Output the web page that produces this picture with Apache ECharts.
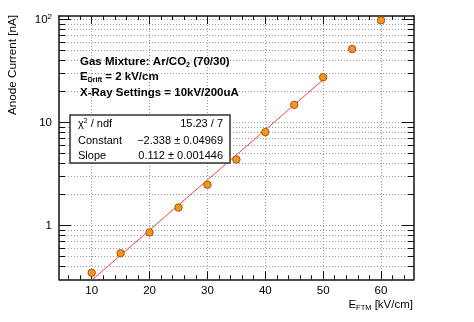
<!DOCTYPE html>
<html><head><meta charset="utf-8">
<script src="https://cdn.jsdelivr.net/npm/echarts@6/dist/echarts.min.js"></script>
<style>html,body{margin:0;padding:0;background:#fff}#c{width:474px;height:322px}</style>
</head><body><div id="c"></div>
<script>
// ---- data ----
const fieldKVcm = [10, 15, 20, 25, 30, 35, 40, 45, 50, 55, 60];
const anodeCurrent = [0.35, 0.54, 0.86, 1.5, 2.5, 4.4, 8.1, 14.9, 27.6, 52, 98.6];
const fitX = [10, 50];
const fitY = [0.2958, 26.10];
const xMajorTicks = [10, 20, 30, 40, 50, 60];
const xMinorTicks = [6, 8, 12, 14, 16, 18, 22, 24, 26, 28, 32, 34, 36, 38, 42, 44, 46, 48, 52, 54, 56, 58, 62, 64];
const yMajorTicks = [1, 10, 100];
const yMinorTicks = [0.4, 0.5, 0.6, 0.7, 0.8, 0.9, 2, 3, 4, 5, 6, 7, 8, 9, 20, 30, 40, 50, 60, 70, 80, 90];
const infoLines = ['Gas Mixture: Ar/CO{sub|2} (70/30)', 'E{sub|Drift} = 2 kV/cm', 'X-Ray Settings = 10kV/200uA'];
const fitLabels = ['χ{sup|2} / ndf', 'Constant', 'Slope'];
const fitValues = ['15.23 / 7', '−2.338 ± 0.04969', '0.112 ± 0.001446'];

// ---- layout / style ----
const FONT = 'Liberation Sans, Arial, Helvetica, sans-serif';
const XMIN = 4.35, XMAX = 65.7, YMIN = 0.302, YMAX = 108.6;
const GRID = {left: 59, right: 60, top: 16, bottom: 42.7};
const gridLine = {show: true, lineStyle: {color: '#9a9a9a', width: 1, type: [1, 2]}};

function xAxisDef(position, ticks, len, main, showLine) {
  return {
    type: 'value', position: position, min: XMIN, max: XMAX,
    axisLine: {show: showLine, onZero: false, lineStyle: {color: '#111', width: 1.5}},
    axisTick: {show: true, inside: true, length: len, customValues: ticks, lineStyle: {color: '#111', width: 1}},
    axisLabel: main ? {show: true, customValues: ticks, margin: 6, color: '#000', fontSize: 11.5, fontFamily: FONT} : {show: false},
    splitLine: main && position === 'bottom' ? gridLine : {show: false},
    minorTick: {show: false}
  };
}
function yAxisDef(position, ticks, len, main, grid, showLine) {
  return {
    type: 'log', position: position, min: YMIN, max: YMAX, logBase: 10,
    axisLine: {show: showLine, onZero: false, lineStyle: {color: '#111', width: 1.5}},
    axisTick: {show: true, inside: true, length: len, customValues: ticks, lineStyle: {color: '#111', width: 1}},
    axisLabel: main ? {
      show: true, customValues: ticks, margin: 7, color: '#000', fontFamily: FONT,
      formatter: function (v) {
        const e = Math.round(Math.log10(v));
        return e >= 2 ? '{n|10}{s|' + e + '}' : '{n|' + Math.round(v) + '}';
      },
      rich: {n: {fontSize: 11.5, fontFamily: FONT, color: '#000'}, s: {fontSize: 8, fontFamily: FONT, color: '#000', verticalAlign: 'top', padding: [0, 0, 6, 0]}}
    } : {show: false},
    splitLine: grid ? gridLine : {show: false}
  };
}

const graphics = [];
infoLines.forEach(function (t, i) {
  graphics.push({type: 'text', x: 80, y: [62, 77, 93][i], z: 100,
    style: {text: '{m|' + t.replace(/\{sub\|([^}]*)\}/g, '}{sub|$1}{m|') + '}', textVerticalAlign: 'middle', fill: '#000',
      rich: {m: {fontSize: 11.5, fontWeight: 'bold', fontFamily: FONT, lineHeight: 14, verticalAlign: 'middle'},
             sub: {fontSize: 7, fontWeight: 'bold', fontFamily: FONT, verticalAlign: 'bottom', lineHeight: 8}}}});
});
graphics.push({type: 'rect', z: 99, shape: {x: 70, y: 115, width: 160, height: 48},
  style: {fill: '#fff', stroke: '#333', lineWidth: 1.5}});
const rowY = [124, 140.5, 155.5];
fitLabels.forEach(function (t, i) {
  graphics.push({type: 'text', x: 78, y: rowY[i], z: 100,
    style: {text: '{m|' + t.replace(/\{sup\|([^}]*)\}/g, '}{sup|$1}{m|') + '}', textVerticalAlign: 'middle', fill: '#000',
      rich: {m: {fontSize: 11, fontFamily: FONT}, sup: {fontSize: 7, fontFamily: FONT, verticalAlign: 'top', padding: [0, 0, 5, 0]}}}});
  graphics.push({type: 'text', x: 223, y: rowY[i], z: 100,
    style: {text: fitValues[i], textAlign: 'right', textVerticalAlign: 'middle', fill: '#000', fontSize: 11, fontFamily: FONT}});
});
graphics.push({type: 'text', x: 413, y: 305, z: 100,
  style: {text: '{m|E}{sub|FTM}{m| [kV/cm]}', textAlign: 'right', textVerticalAlign: 'middle', fill: '#000',
    rich: {m: {fontSize: 11.5, fontFamily: FONT, lineHeight: 14}, sub: {fontSize: 7.5, fontFamily: FONT, verticalAlign: 'bottom', lineHeight: 8}}}});
graphics.push({type: 'text', x: 13, y: 15, rotation: Math.PI / 2, z: 100,
  style: {text: 'Anode Current [nA]', textAlign: 'right', textVerticalAlign: 'middle', fill: '#000', fontSize: 11.7, fontFamily: FONT}});

const chart = echarts.init(document.getElementById('c'), null, {renderer: 'canvas'});
chart.setOption({
  animation: false,
  backgroundColor: '#fff',
  grid: Object.assign({outerBoundsMode: 'none', containLabel: false}, GRID),
  xAxis: [
    xAxisDef('bottom', xMajorTicks, 8, true, true),
    xAxisDef('bottom', xMinorTicks, 4, false, false),
    xAxisDef('top', xMajorTicks, 8, false, true),
    xAxisDef('top', xMinorTicks, 4, false, false)
  ],
  yAxis: [
    yAxisDef('left', yMajorTicks, 12, true, true, true),
    yAxisDef('left', yMinorTicks, 6, false, true, false),
    yAxisDef('right', yMajorTicks, 12, false, false, true),
    yAxisDef('right', yMinorTicks, 6, false, false, false)
  ],
  graphic: graphics,
  series: [
    {type: 'line', xAxisIndex: 0, yAxisIndex: 0, data: fitX.map(function (x, i) { return [x, fitY[i]]; }),
      showSymbol: false, symbol: 'none', clip: true, lineStyle: {color: '#e8483f', width: 1}, z: 3, silent: true},
    {type: 'scatter', xAxisIndex: 0, yAxisIndex: 0, data: fieldKVcm.map(function (x, i) { return [x, anodeCurrent[i]]; }),
      symbol: 'circle', symbolSize: 7.5, itemStyle: {color: '#f7941d', borderColor: '#8a4500', borderWidth: 0.8, opacity: 1}, z: 4}
  ]
});
</script></body></html>
